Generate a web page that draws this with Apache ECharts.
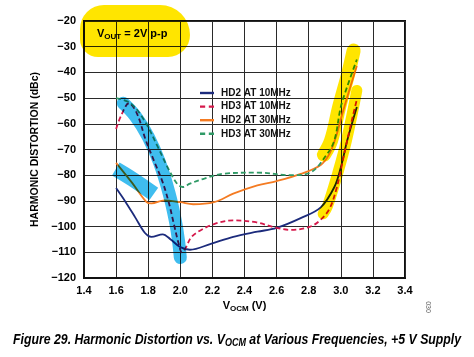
<!DOCTYPE html>
<html><head><meta charset="utf-8">
<script src="https://cdn.jsdelivr.net/npm/echarts@6/dist/echarts.min.js"></script>
<style>html,body{margin:0;padding:0;background:#fff}#c{width:474px;height:357px}</style>
</head><body><div id="c"></div>
<script>
// ---- data (VOCM in V, distortion in dBc) ----
const hd2_10_v = [1.6, 1.66, 1.72, 1.78, 1.82, 1.89, 1.94, 2.0, 2.06, 2.19, 2.33, 2.48, 2.6, 2.75, 2.875, 2.96, 3.0, 3.04, 3.1];
const hd2_10_d = [-85, -90.5, -96.5, -102.5, -104, -103, -105, -108, -109, -106.7, -104, -102, -100.5, -96.7, -92.5, -84.6, -77, -66.5, -53.5];
const hd3_10_v = [1.6, 1.63, 1.68, 1.73, 1.785, 1.84, 1.89, 1.93, 1.96, 1.99, 2.01, 2.03, 2.07, 2.125, 2.21, 2.33, 2.47, 2.6, 2.69, 2.81, 2.875, 2.93, 2.97, 3.0, 3.04, 3.1];
const hd3_10_d = [-62, -57, -52, -56, -66.4, -75, -82.7, -91, -99, -106.7, -110, -108.7, -104, -101.5, -99, -97.6, -98.3, -100.5, -101.3, -100, -97.3, -93, -86, -78, -66.4, -50.5];
const hd2_30_v = [1.6, 1.7, 1.79, 1.82, 1.9, 2.0, 2.08, 2.21, 2.33, 2.48, 2.6, 2.75, 2.875, 2.93, 2.97, 3.01, 3.06, 3.1];
const hd2_30_d = [-75.2, -83, -90.5, -91, -89.8, -90.5, -91.3, -90.5, -87.2, -84, -82.3, -79.5, -76, -71.6, -65, -56, -45.5, -37.5];
const hd3_30_v = [1.6, 1.69, 1.775, 1.86, 1.92, 1.98, 2.015, 2.06, 2.15, 2.27, 2.48, 2.69, 2.81, 2.91, 2.96, 3.0, 3.04, 3.1];
const hd3_30_d = [-50, -52, -58.6, -69, -76.8, -83.3, -84.6, -83.3, -81.3, -79.4, -79, -80, -79, -72.2, -66.4, -53.4, -45.5, -35];
// highlighter strokes drawn over the figure
const blueA_v = [1.645, 1.72, 1.8, 1.87, 1.93, 1.97, 1.99, 2.0];
const blueA_d = [-52, -57, -65, -75, -87, -98, -106, -112];
const blueB_v = [1.598, 1.7, 1.835];
const blueB_d = [-77.6, -81.5, -87.3];
const yelA_v = [2.895, 2.94, 2.99, 3.047, 3.08];
const yelA_d = [-72, -66.4, -53.4, -40.3, -31.5];
const yelB_v = [2.89, 2.917, 2.98, 3.036, 3.1];
const yelB_d = [-95, -92, -79.4, -66.3, -47];
const seriesNames = ['HD2 AT 10MHz', 'HD3 AT 10MHz', 'HD2 AT 30MHz', 'HD3 AT 30MHz'];

const pts = (xs, ys) => xs.map((x, i) => [x, ys[i]]);
const FONT = 'Liberation Sans, Arial, sans-serif';
const SOLID_ICON = 'path://M0,0H14V2.4H0Z';
const DASH_ICON = 'path://M0,0H5V2.4H0Z M8.5,0H13.5V2.4H8.5Z';

function curve(name, xs, ys, color, dashed) {
  return {
    name, type: 'line', data: pts(xs, ys), smooth: 0.35, symbol: 'none', z: 3,
    lineStyle: { color, width: 1.8, type: dashed ? [5, 3] : 'solid' },
    itemStyle: { color }
  };
}
function marker(xs, ys, color, width, cap) {
  return {
    type: 'line', data: pts(xs, ys), smooth: 0.4, symbol: 'none', silent: true, z: 6,
    blendMode: 'multiply',
    lineStyle: { color, width, cap: cap || 'round', join: 'round' }
  };
}

const chart = echarts.init(document.getElementById('c'), null, { renderer: 'canvas' });
chart.setOption({
  backgroundColor: '#fff',
  animation: false,
  grid: { left: 84, right: 69, top: 21, bottom: 79, show: true, borderColor: '#111', borderWidth: 2 },
  xAxis: {
    type: 'value', min: 1.4, max: 3.4, interval: 0.2,
    name: '{v|V}{s|OCM}{v| (V)}', nameLocation: 'middle', nameGap: 21,
    nameTextStyle: { rich: {
      v: { fontFamily: FONT, fontWeight: 'bold', fontSize: 11, color: '#000' },
      s: { fontFamily: FONT, fontWeight: 'bold', fontSize: 8, color: '#000', padding: [5, 0, 0, 0] } } },
    axisLine: { show: true, lineStyle: { color: '#111', width: 2 } },
    axisTick: { show: false },
    axisLabel: { margin: 7, fontFamily: FONT, fontWeight: 'bold', fontSize: 11, color: '#000', formatter: v => v.toFixed(1) },
    splitLine: { show: true, lineStyle: { color: '#2a2a2a', width: 1 } }
  },
  yAxis: {
    type: 'value', min: -120, max: -20, interval: 10,
    name: 'HARMONIC DISTORTION (dBc)', nameLocation: 'middle', nameGap: 40,
    nameTextStyle: { fontFamily: FONT, fontWeight: 'bold', fontSize: 10.5, color: '#000' },
    axisLine: { show: true, lineStyle: { color: '#111', width: 2 } },
    axisTick: { show: false },
    axisLabel: { margin: 8, fontFamily: FONT, fontWeight: 'bold', fontSize: 11, color: '#000',
      formatter: v => (v < 0 ? '\u2212' + Math.abs(v) : String(v)) },
    splitLine: { show: true, lineStyle: { color: '#2a2a2a', width: 1 } }
  },
  legend: {
    data: seriesNames.map((n, i) => ({ name: n, icon: i % 2 ? DASH_ICON : SOLID_ICON })),
    orient: 'vertical', left: 195, top: 83, itemGap: 3.6,
    itemWidth: 14, itemHeight: 2.4, symbolKeepAspect: false,
    textStyle: { fontFamily: FONT, fontWeight: 'bold', fontSize: 10, color: '#111', padding: [0, 0, 0, 2] }
  },
  series: [
    curve(seriesNames[0], hd2_10_v, hd2_10_d, '#1c2b7c', false),
    curve(seriesNames[1], hd3_10_v, hd3_10_d, '#d5194b', true),
    curve(seriesNames[2], hd2_30_v, hd2_30_d, '#f47b22', false),
    curve(seriesNames[3], hd3_30_v, hd3_30_d, '#2f9a66', true),
    marker(blueA_v, blueA_d, '#3fbdef', 13),
    marker(blueB_v, blueB_d, '#3fbdef', 15, 'butt'),
    marker(yelA_v, yelA_d, '#ffe500', 14),
    marker(yelB_v, yelB_d, '#ffe500', 11)
  ],
  graphic: [
    { type: 'rect', z: 100, shape: { x: 80, y: 5, width: 110, height: 52, r: [24, 30, 22, 18] },
      style: { fill: '#ffe500', blend: 'multiply' } },
    { type: 'text', z: 101, x: 97, y: 34,
      style: { text: '{v|V}{s|OUT}{v| = 2V p-p}', verticalAlign: 'middle',
        rich: { v: { fontFamily: FONT, fontWeight: 'bold', fontSize: 11, fill: '#000' },
                s: { fontFamily: FONT, fontWeight: 'bold', fontSize: 8, fill: '#000', padding: [5, 0, 0, 0] } } } },
    { type: 'text', z: 101, x: 13, y: 340, scaleX: 0.82,
      style: { text: '{v|Figure 29. Harmonic Distortion vs. V}{s|OCM}{v| at Various Frequencies, +5 V Supply}',
        verticalAlign: 'middle',
        rich: { v: { fontFamily: FONT, fontWeight: 'bold', fontStyle: 'italic', fontSize: 15, fill: '#000' },
                s: { fontFamily: FONT, fontWeight: 'bold', fontStyle: 'italic', fontSize: 11, fill: '#000', padding: [6, 0, 0, 0] } } } },
    { type: 'text', z: 101, x: 428, y: 307, rotation: -Math.PI / 2,
      style: { text: '030', fontFamily: FONT, fontSize: 7, fill: '#666', align: 'center', verticalAlign: 'middle' } }
  ]
});
</script></body></html>
